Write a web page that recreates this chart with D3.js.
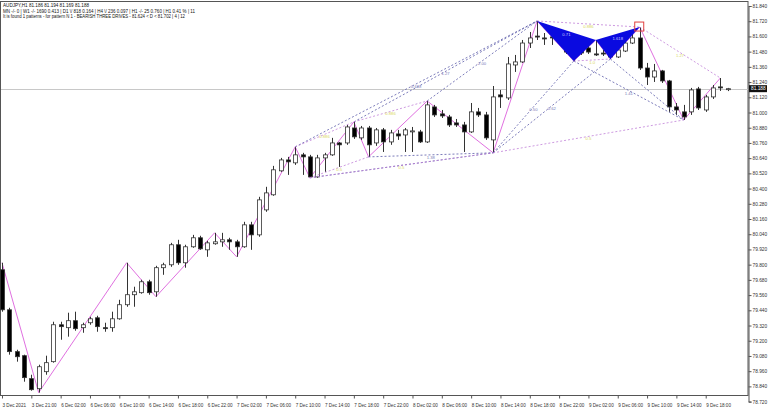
<!DOCTYPE html>
<html><head><meta charset="utf-8">
<script src="https://cdn.jsdelivr.net/npm/d3@7"></script>
<style>body{margin:0;background:#fff}svg{display:block}text{font-family:"Liberation Sans",Arial,sans-serif}</style>
</head><body><svg id="c" width="768" height="412"></svg>
<script>
const openP=[79.760,79.444,79.114,79.082,78.901,78.822,78.956,79.035,79.326,79.303,79.358,79.303,79.342,79.381,79.303,79.303,79.373,79.484,79.563,79.579,79.665,79.586,79.776,79.799,79.957,79.815,79.941,80.012,79.917,79.965,79.980,79.996,79.980,79.941,80.114,80.035,80.232,80.351,80.540,80.626,80.603,80.666,80.650,80.492,80.642,80.666,80.760,80.760,80.878,80.800,80.878,80.760,80.863,80.768,80.831,80.823,80.847,80.847,80.768,81.044,80.989,80.965,80.918,80.902,80.847,81.005,80.981,80.784,81.139,81.115,81.375,81.399,81.548,81.603,81.588,81.596,81.596,81.572,81.477,81.501,81.509,81.462,81.469,81.469,81.438,81.485,81.548,81.588,81.351,81.280,81.328,81.249,81.044,81.005,81.005,81.186,81.020,81.123,81.202,81.186];
const highP=[79.815,79.460,79.129,79.090,78.932,79.011,79.082,79.350,79.350,79.421,79.429,79.342,79.389,79.397,79.342,79.429,79.523,79.815,79.626,79.681,79.681,79.791,79.815,79.972,79.996,79.957,80.035,80.028,79.988,80.051,80.051,80.012,79.996,80.138,80.138,80.335,80.414,80.579,80.642,80.650,80.729,80.682,80.666,80.666,80.682,80.800,80.768,80.902,80.926,80.894,80.894,80.878,80.878,80.863,80.863,80.878,80.886,80.863,81.091,81.060,81.020,80.981,80.949,80.926,81.075,81.036,81.005,81.209,81.178,81.438,81.454,81.572,81.635,81.722,81.627,81.611,81.627,81.588,81.525,81.533,81.540,81.572,81.493,81.493,81.501,81.572,81.627,81.674,81.391,81.383,81.336,81.257,81.075,81.060,81.194,81.202,81.139,81.217,81.272,81.194];
const lowP=[79.429,79.090,79.035,78.877,78.806,78.791,78.932,79.027,79.208,79.232,79.279,79.263,79.326,79.271,79.271,79.271,79.366,79.468,79.468,79.571,79.563,79.547,79.720,79.783,79.799,79.776,79.933,79.917,79.862,79.957,79.941,79.917,79.862,79.933,79.917,80.020,80.217,80.343,80.532,80.508,80.587,80.508,80.485,80.485,80.532,80.658,80.571,80.745,80.792,80.784,80.650,80.737,80.689,80.745,80.784,80.689,80.689,80.760,80.760,80.965,80.957,80.886,80.886,80.689,80.839,80.965,80.784,80.682,81.036,81.099,81.320,81.391,81.509,81.572,81.533,81.533,81.556,81.462,81.406,81.454,81.462,81.446,81.446,81.422,81.430,81.477,81.540,81.336,81.217,81.241,81.233,81.005,80.981,80.941,80.981,81.020,81.005,81.107,81.170,81.169];
const closeP=[79.444,79.114,79.074,78.909,78.814,78.995,79.027,79.326,79.311,79.358,79.295,79.326,79.373,79.311,79.299,79.373,79.484,79.563,79.586,79.665,79.579,79.776,79.799,79.957,79.815,79.941,80.012,79.925,79.972,79.980,79.996,79.980,79.941,80.114,80.035,80.311,80.366,80.548,80.626,80.611,80.666,80.650,80.492,80.642,80.666,80.760,80.745,80.886,80.808,80.878,80.745,80.863,80.768,80.839,80.815,80.863,80.855,80.768,81.060,80.981,80.973,80.902,80.902,80.847,81.005,80.981,80.800,81.123,81.123,81.383,81.399,81.548,81.588,81.596,81.584,81.588,81.572,81.477,81.501,81.469,81.477,81.458,81.462,81.438,81.493,81.548,81.588,81.351,81.280,81.328,81.249,81.044,81.020,80.965,81.178,81.036,81.123,81.194,81.198,81.188];

const timeLabels=["3 Dec 2021","3 Dec 21:00","6 Dec 02:00","6 Dec 06:00","6 Dec 10:00","6 Dec 14:00","6 Dec 18:00","6 Dec 22:00","7 Dec 02:00","7 Dec 06:00","7 Dec 10:00","7 Dec 14:00","7 Dec 18:00","7 Dec 22:00","8 Dec 02:00","8 Dec 06:00","8 Dec 10:00","8 Dec 14:00","8 Dec 18:00","8 Dec 22:00","9 Dec 02:00","9 Dec 06:00","9 Dec 10:00","9 Dec 14:00","9 Dec 18:00"];
const priceTicks=[78.72,78.84,78.96,79.08,79.20,79.32,79.44,79.56,79.68,79.80,79.92,80.04,80.16,80.28,80.40,80.52,80.64,80.76,80.88,81.00,81.12,81.24,81.36,81.48,81.60,81.72,81.84];
const lastPrice=81.188;

// zigzag vertices
const zigBars=[0,5,17,21,29,32,40,42,48,50,58,67,73,78,81,83,87,93,98];
const zigPrices=[79.815,78.791,79.815,79.547,80.051,79.862,80.729,80.485,80.926,80.650,81.091,80.682,81.722,81.406,81.572,81.422,81.674,80.941,81.272];

// harmonic ratio lines: [fromBar, fromPrice, toBar, toPrice, label]
const navyLines=[[40,80.729,73,81.722,"0.618"],[48,80.926,73,81.722,"1.27"],[58,81.091,73,81.722,"2.00"],
  [42,80.485,67,80.682,""],[50,80.650,67,80.682,"1.38"],[67,80.682,78,81.406,"0.50"],[67,80.682,83,81.422,"0.62"],
  [78,81.406,93,80.941,"1.41"],[83,81.422,93,80.941,""]];
const pinkLines=[[40,80.729,48,80.926,"0.886"],[48,80.926,58,81.091,"0.886"],[42,80.485,50,80.650,"0.5"],
  [42,80.485,67,80.682,"0.5"],[73,81.722,87,81.674,"0.886"],[78,81.406,83,81.422,"1.0"],
  [87,81.674,98,81.272,"1.27"],[67,80.682,93,80.941,"0.5"]];
const triangles=[[[73,81.722],[78,81.406],[81,81.572]],[[81,81.572],[83,81.422],[87,81.674]]];
const triLabels=["0.71","1.618"];

const headerLines=["AUDJPY,H1  81.186 81.194 81.169 81.188",
"MN -/- 0  |  W1 -/- 1690   0.413  |  D1 \\/ 818   0.164  |  H4 \\/ 236   0.097  |  H1 -/- 25   0.760  |  H1   0.41 %  |  11",
"It is found 1 patterns  -  for pattern N 1 - BEARISH THREE DRIVES - 81.624 < D < 81.702 | 4 | 12"];
const headerWidths=[86,192,182];

const svg=d3.select("#c");
const W=748, B=395.5;
const x=d3.scaleLinear().domain([0,99]).range([2,727.7]);
const y=d3.scaleLinear().domain([78.72,81.84]).range([401.6,6]);

svg.append("rect").attr("x",0.5).attr("y",1.5).attr("width",W-0.5).attr("height",B-1.5)
  .attr("fill","none").attr("stroke","#555").attr("stroke-width",1);

svg.append("line").attr("x1",1).attr("x2",W).attr("y1",Math.round(y(lastPrice))+0.5).attr("y2",Math.round(y(lastPrice))+0.5)
  .attr("stroke","#c8c8c8").attr("stroke-width",1);

const bars=d3.range(openP.length).map(i=>({i,o:openP[i],h:highP[i],l:lowP[i],c:closeP[i]}));
const line=d3.line().x(d=>x(d[0])).y(d=>y(d[1]));
svg.append("path").datum(zigBars.map((b,k)=>[b,zigPrices[k]])).attr("d",line)
  .attr("fill","none").attr("stroke","#e070e0").attr("stroke-width",1);

const cg=svg.append("g");
cg.selectAll("line.w").data(bars).join("line").attr("class","w")
  .attr("x1",d=>Math.round(x(d.i))+0.5).attr("x2",d=>Math.round(x(d.i))+0.5)
  .attr("y1",d=>y(d.h)).attr("y2",d=>y(d.l)).attr("stroke","#333").attr("stroke-width",1);
cg.selectAll("rect.b").data(bars).join("rect").attr("class","b")
  .attr("x",d=>Math.round(x(d.i))-1.5).attr("width",4)
  .attr("y",d=>y(Math.max(d.o,d.c))).attr("height",d=>Math.max(1,Math.abs(y(d.o)-y(d.c))))
  .attr("fill",d=>d.c>=d.o?"#fff":"#000").attr("stroke","#333").attr("stroke-width",0.8);

function drawLines(data,cls,color,labColor){
  const gg=svg.append("g");
  gg.selectAll("line").data(data).join("line")
    .attr("x1",d=>x(d[0])).attr("y1",d=>y(d[1])).attr("x2",d=>x(d[2])).attr("y2",d=>y(d[3]))
    .attr("stroke",color).attr("stroke-width",0.8).attr("stroke-dasharray","2,2");
  gg.selectAll("text").data(data.filter(d=>d[4])).join("text")
    .attr("x",d=>(x(d[0])+x(d[2]))/2).attr("y",d=>(y(d[1])+y(d[3]))/2+4)
    .attr("text-anchor","middle").attr("font-size",4.2).attr("fill",labColor).text(d=>d[4]);
}
drawLines(navyLines,"n","#5a5aa8","#7a7ab8");
drawLines(pinkLines,"p","#c080d8","#d8d860");

svg.append("g").selectAll("path").data(triangles).join("path")
  .attr("d",t=>"M"+t.map(p=>x(p[0])+","+y(p[1])).join("L")+"Z").attr("fill","#0a0ae0");
svg.append("g").selectAll("text").data(triangles).join("text")
  .attr("x",t=>(x(t[0][0])+x(t[2][0]))/2).attr("y",t=>(y(t[0][1])+y(t[2][1]))/2+6)
  .attr("text-anchor","middle").attr("font-size",4.2).attr("fill","#c8c8ff").text((t,k)=>triLabels[k]);

svg.append("rect").attr("x",x(87)-5).attr("y",y(81.674)-5).attr("width",9).attr("height",9)
  .attr("fill","none").attr("stroke","#e04040").attr("stroke-width",1);

const ya=svg.append("g").attr("transform",`translate(${W+0.5},0)`)
  .call(d3.axisRight(y).tickValues(priceTicks).tickFormat(d3.format(".3f")).tickSize(3));
ya.select(".domain").attr("stroke","#555");
ya.selectAll(".tick line").attr("stroke","#555");
ya.selectAll("text").attr("font-size",4.8).attr("fill","#333").attr("x",4);

svg.append("rect").attr("x",W+1).attr("y",y(lastPrice)-3.5).attr("width",18).attr("height",7).attr("fill","#111");
svg.append("text").attr("x",W+3).attr("y",y(lastPrice)+1.8).attr("font-size",4.8).attr("fill","#fff").text(lastPrice.toFixed(3));

const tickBars=timeLabels.map((_,k)=>k*4);
const xa=svg.append("g").attr("transform",`translate(0,${B})`)
  .call(d3.axisBottom(x).tickValues(tickBars).tickFormat((d,k)=>timeLabels[k]).tickSize(3));
xa.select(".domain").remove();
xa.selectAll(".tick line").attr("stroke","#555");
xa.selectAll("text").attr("font-size",4.6).attr("fill","#333").attr("text-anchor","start").attr("dy","1.1em");

svg.append("g").selectAll("text").data(headerLines).join("text")
  .attr("x",3).attr("y",(d,k)=>7+k*5.6).attr("font-size",4.6).attr("fill","#111")
  .attr("textLength",(d,k)=>headerWidths[k]).attr("lengthAdjust","spacingAndGlyphs").text(d=>d);
</script></body></html>
